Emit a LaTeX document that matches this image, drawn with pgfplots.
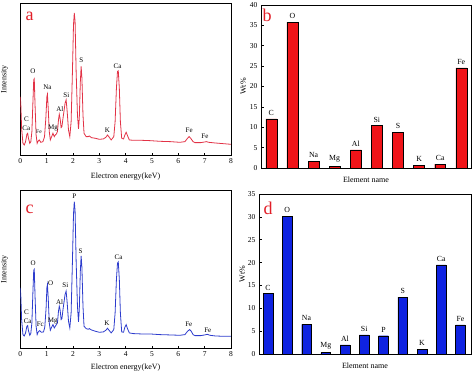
\documentclass[border=0pt]{standalone}
\usepackage{pgfplots}
\pgfplotsset{compat=1.18}
\usepackage{pgfplotstable}
\usepackage{fontspec}
\setmainfont{Liberation Serif}
\definecolor{specred}{RGB}{226,50,70}
\definecolor{specblue}{RGB}{45,60,205}
\definecolor{barred}{RGB}{240,20,25}
\definecolor{barblue}{RGB}{15,35,225}
\definecolor{letterred}{RGB}{225,30,40}

\pgfplotstableread{
x y
0.00 175
0.02 150
0.05 80
0.10 35
0.15 30
0.20 40
0.25 62
0.28 65
0.31 50
0.36 35
0.40 40
0.44 70
0.48 160
0.51 225
0.53 228
0.56 150
0.60 60
0.64 35
0.68 42
0.72 45
0.78 38
0.86 40
0.92 55
0.97 110
1.01 175
1.03 182
1.06 140
1.10 70
1.14 45
1.19 55
1.24 65
1.29 55
1.33 60
1.37 63
1.41 70
1.45 105
1.48 122
1.51 110
1.55 82
1.58 85
1.63 115
1.70 155
1.74 165
1.78 130
1.83 75
1.88 55
1.93 100
1.98 250
2.02 390
2.05 425
2.08 400
2.12 250
2.17 120
2.21 78
2.24 110
2.28 220
2.31 265
2.34 230
2.38 120
2.42 65
2.50 55
2.58 55
2.62 57
2.70 52
2.85 50
3.00 47
3.15 48
3.25 53
3.31 60
3.36 55
3.45 45
3.55 55
3.60 100
3.65 200
3.69 250
3.72 252
3.76 200
3.80 100
3.85 50
3.92 48
3.97 60
4.02 68
4.07 58
4.14 45
4.30 44
4.60 44
4.92 43
5.30 41
5.70 40
6.06 38
6.25 40
6.35 50
6.41 55
6.47 50
6.56 40
6.63 37
6.85 37
7.00 39
7.07 40
7.15 38
7.40 36
7.70 34
8.00 32
}\specA

\pgfplotstableread{
x y
0.00 180
0.02 155
0.05 85
0.10 40
0.15 36
0.20 45
0.25 65
0.28 67
0.31 52
0.36 38
0.40 44
0.44 75
0.48 170
0.51 232
0.53 235
0.56 155
0.60 65
0.64 40
0.68 48
0.73 52
0.80 47
0.88 48
0.93 62
0.98 120
1.01 180
1.03 190
1.06 150
1.10 75
1.14 53
1.19 62
1.24 70
1.29 60
1.33 65
1.37 70
1.41 75
1.45 110
1.48 125
1.51 115
1.55 85
1.58 88
1.63 120
1.70 160
1.74 170
1.78 135
1.83 80
1.88 60
1.93 105
1.98 260
2.02 400
2.05 437
2.08 410
2.12 260
2.17 125
2.21 78
2.24 115
2.28 230
2.31 275
2.34 240
2.38 125
2.42 65
2.50 58
2.58 56
2.62 58
2.70 54
2.85 50
3.00 47
3.15 48
3.25 53
3.31 59
3.36 54
3.45 45
3.55 55
3.60 105
3.65 205
3.69 253
3.72 257
3.76 205
3.80 105
3.85 48
3.92 47
3.97 62
4.02 70
4.07 58
4.14 45
4.30 43
4.60 42
4.92 42
5.30 40
5.70 39
6.06 38
6.25 40
6.35 50
6.43 55
6.49 50
6.56 40
6.63 37
6.85 37
7.00 39
7.10 41
7.20 38
7.40 36
7.70 35
8.00 35
}\specC

\pgfplotstableread{
x y lab
0 12.05 C
1 35.8 O
2 1.6 Na
3 0.45 Mg
4 4.45 Al
5 10.4 Si
6 8.7 S
7 0.62 K
8 0.95 Ca
9 24.6 Fe
}\barsB

\pgfplotstableread{
x y lab
0 13.2 C
1 30.1 O
2 6.5 Na
3 0.3 Mg
4 2.0 Al
5 4.2 Si
6 4.0 P
7 12.45 S
8 1.0 K
9 19.5 Ca
10 6.35 Fe
}\barsD

\tikzset{
 pk/.style={font=\fontsize{7}{8}\selectfont, inner sep=0pt},
 letter/.style={font=\fontsize{18}{19}\selectfont, text=letterred, inner sep=0pt}
}
\pgfplotsset{
 common/.style={scale only axis,
   /pgf/number format/assume math mode=true,
   tick label style={font=\fontsize{7.5}{8}\selectfont},
   label style={font=\fontsize{8}{9}\selectfont},
   tick style={black, line width=0.6pt},
   major tick length=2.5pt,
   axis line style={line width=0.8pt}},
 spec/.style={common, xmin=0, xmax=8, ymin=0, xtick={0,...,8}, ytick=\empty,
   xtick pos=bottom, xlabel={Electron energy(keV)}, ylabel={Intensity}},
 bars/.style={common, ybar, bar width=0.52, ymin=0, xtick=\empty, ytick pos=left,
   xlabel={Element name}, ylabel={Wt\%},
   nodes near coords, point meta=explicit symbolic,
   nodes near coords style={font=\fontsize{7.8}{8.5}\selectfont, inner sep=1pt, yshift=2.3pt}}
}

\begin{document}
\begin{tikzpicture}
\useasboundingbox (0,0) rectangle (474pt,373pt);

% panel a
\begin{axis}[spec, at={(20.3pt,218pt)}, anchor=south west, width=210.7pt, height=152pt,
  ymax=455,
  xlabel style={at={(axis description cs:0.5,-0.145)}, anchor=center},
  ylabel style={at={(axis description cs:-0.075,0.5)}, anchor=center}]
\addplot[specred, line width=0.8pt] table[x=x,y=y] {\specA};
\node[letter] at (axis cs:0.355,415) {a};
\node[pk] at (axis cs:0.23,107) {C};
\node[pk] at (axis cs:0.23,80) {Ca};
\node[pk, font=\fontsize{5.5}{6}\selectfont] at (axis cs:0.71,70) {Fe};
\node[pk] at (axis cs:0.48,250) {O};
\node[pk] at (axis cs:1.03,203) {Na};
\node[pk] at (axis cs:1.24,82) {Mg};
\node[pk] at (axis cs:1.50,137) {Al};
\node[pk] at (axis cs:1.75,178) {Si};
\node[pk] at (axis cs:2.32,283) {S};
\node[pk] at (axis cs:3.69,265) {Ca};
\node[pk] at (axis cs:3.31,75) {K};
\node[pk] at (axis cs:6.41,75) {Fe};
\node[pk] at (axis cs:7.01,55) {Fe};
\end{axis}

% panel b
\begin{axis}[bars, at={(261pt,205pt)}, anchor=south west, width=210pt, height=163pt,
  ymax=40, ytick={0,5,...,40}, xmin=-0.49, xmax=9.46,
  xlabel style={at={(axis description cs:0.5,-0.074)}, anchor=center},
  ylabel style={at={(axis description cs:-0.084,0.5)}, anchor=center}]
\addplot[fill=barred, draw=black, line width=0.4pt] table[x=x,y=y,meta=lab] {\barsB};
\node[letter] at (axis cs:-0.205,37.5) {b};
\end{axis}

% panel c
\begin{axis}[spec, at={(20.3pt,25pt)}, anchor=south west, width=210.7pt, height=158pt,
  ymax=472,
  xlabel style={at={(axis description cs:0.5,-0.125)}, anchor=center},
  ylabel style={at={(axis description cs:-0.075,0.5)}, anchor=center}]
\addplot[specblue, line width=0.8pt] table[x=x,y=y] {\specC};
\node[letter] at (axis cs:0.354,413) {c};
\node[pk] at (axis cs:2.05,453) {P};
\node[pk] at (axis cs:2.29,290) {S};
\node[pk] at (axis cs:3.73,272) {Ca};
\node[pk] at (axis cs:0.49,253) {O};
\node[pk] at (axis cs:1.15,195) {O};
\node[pk] at (axis cs:1.71,188) {Si};
\node[pk] at (axis cs:1.49,137) {Al};
\node[pk] at (axis cs:0.23,107) {C};
\node[pk] at (axis cs:0.28,80) {Ca};
\node[pk] at (axis cs:0.76,70) {Fc};
\node[pk] at (axis cs:1.23,80) {Mg};
\node[pk] at (axis cs:3.29,75) {K};
\node[pk] at (axis cs:6.40,72) {Fe};
\node[pk] at (axis cs:7.12,53) {Fe};
\end{axis}

% panel d
\begin{axis}[bars, at={(259pt,19pt)}, anchor=south west, width=212pt, height=160pt,
  ymax=35, ytick={0,5,...,35}, xmin=-0.47, xmax=10.55, bar width=0.5,
  xlabel style={at={(axis description cs:0.5,-0.075)}, anchor=center},
  ylabel style={at={(axis description cs:-0.079,0.5)}, anchor=center}]
\addplot[fill=barblue, draw=black, line width=0.4pt] table[x=x,y=y,meta=lab] {\barsD};
\node[letter] at (axis cs:0.0,31.9) {d};
\end{axis}
\end{tikzpicture}
\end{document}
